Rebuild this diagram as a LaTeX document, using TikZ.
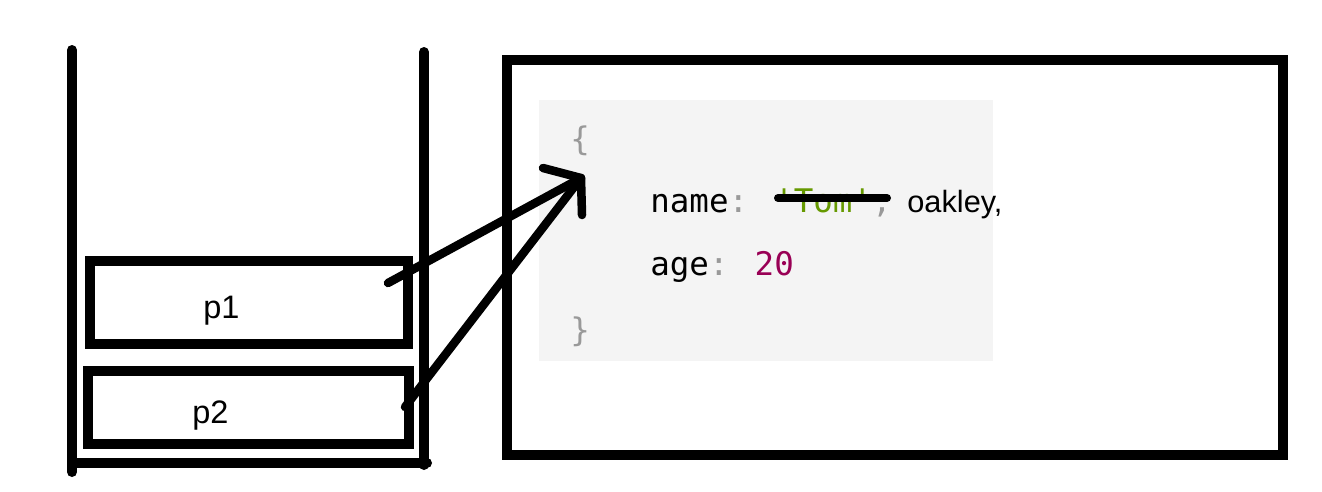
\documentclass[tikz,border=0pt]{standalone}
\usepackage{fontspec}
\setmainfont{Liberation Sans}
\newfontfamily\codefont{DejaVu Sans Mono}
\definecolor{codebg}{RGB}{244,244,244}
\definecolor{punct}{RGB}{153,153,153}
\definecolor{strgreen}{RGB}{102,153,0}
\definecolor{numpurple}{RGB}{153,0,85}
\tikzset{
  slot/.style={draw,line width=.2cm,inner sep=0},
  tag/.style={anchor=base west,inner sep=0,font=\fontsize{18.5}{20}\selectfont},
  code/.style={anchor=base west,inner sep=0,font=\codefont\fontsize{18.5}{20}\selectfont},
  pointer/.style={line width=.17cm,line cap=round,line join=round}
}
\begin{document}
\begin{tikzpicture}[x=0.02cm,y=-0.02cm,line cap=round]
	\useasboundingbox (0,0) rectangle (1322,491);
	% stack
	\draw[line width=.2cm](72,50)--(72,472);
	\draw[line width=.2cm](424,52)--(424,465);
	\draw[line width=.2cm](72,463)--(427,463);
	\node[slot,minimum width=6.36cm,minimum height=1.66cm] (p1) at (249,302.5) {};
	\node[slot,minimum width=6.42cm,minimum height=1.46cm] (p2) at (248.5,407.5) {};
	\node[tag] (p1t) at (203,318) {p1};
	\node[tag] (p2t) at (192,423) {p2};
	% heap
	\node[slot,minimum width=15.52cm,minimum height=7.9cm] (heap) at (895,257.5) {};
	\fill[codebg] (539,100) rectangle (993,361);
	\node[code,text=punct] (lb) at (570,150) {\{};
	\node[code] (name) at (650,212) {name\textcolor{punct}{:} \textcolor{strgreen}{'Tom'}\textcolor{punct}{,}};
	\node[tag,font=\fontsize{17.5}{20}\selectfont] (newname) at (907,212) {oakley,};
	\node[code] (age) at (650,275) {age\textcolor{punct}{:} \textcolor{numpurple}{20}};
	\node[code,text=punct] (rb) at (570,341) {\}};
	\draw[line width=.16cm](778,198)--(887,198);
	% pointers
	\coordinate (obj) at (581,178);
	\coordinate (p1out) at (388,283);
	\coordinate (p2out) at (405,407);
	\draw[pointer](p1out)--(obj);
	\draw[pointer](p2out)--(obj);
	\draw[pointer](543,168)--(obj)--(582,215);
\end{tikzpicture}
\end{document}
